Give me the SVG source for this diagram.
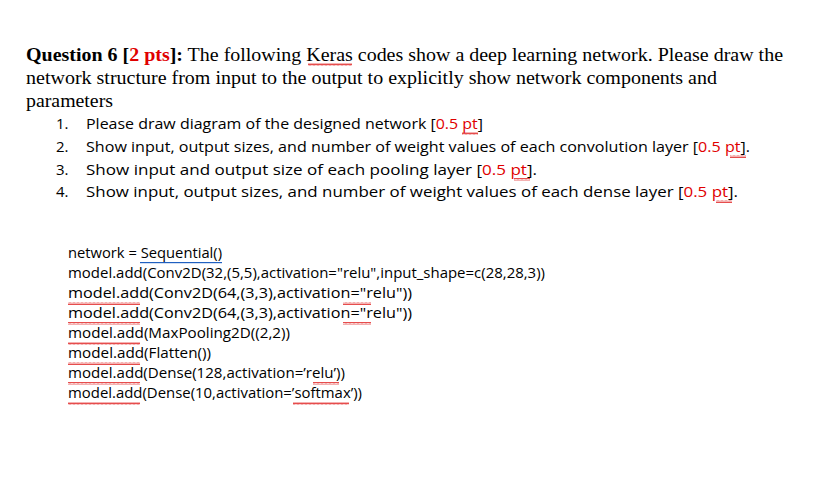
<svg xmlns="http://www.w3.org/2000/svg" width="830" height="491" viewBox="0 0 830 491">
<defs>
<pattern id="wv" width="4" height="3" patternUnits="userSpaceOnUse"><path d="M0,2.5 L1,0.5 L2,2.5 L3,0.5 L4,2.5" fill="none" stroke="#e02020" stroke-width="0.8"/></pattern>
<style>
.t{font-family:"Liberation Serif",serif;font-size:19px;fill:#000}
.b{font-weight:bold}
.r{fill:#e00000}
.c{font-family:"Open Sans","Liberation Sans",sans-serif;font-size:15px;fill:#000}
.n{font-family:"Open Sans","Liberation Sans",sans-serif;font-size:15px;fill:#000}
.red{fill:#e00000}
</style>
</defs>
<rect width="830" height="491" fill="#fff"/>
<text class="t" x="26" y="61" textLength="757" lengthAdjust="spacingAndGlyphs"><tspan class="b">Question 6 [</tspan><tspan class="b r">2 pts</tspan><tspan class="b">]:</tspan> The following Keras codes show a deep learning network. Please draw the</text>
<text class="t" x="26" y="84" textLength="691" lengthAdjust="spacingAndGlyphs">network structure from input to the output to explicitly show network components and</text>
<text class="t" x="26" y="107" textLength="87" lengthAdjust="spacingAndGlyphs">parameters</text>
<g class="n">
<text x="56" y="129">1.</text><text x="86" y="129" textLength="397" lengthAdjust="spacingAndGlyphs">Please draw diagram of the designed network [<tspan class="red">0.5 pt</tspan>]</text>
<text x="56" y="152">2.</text><text x="86" y="152" textLength="664" lengthAdjust="spacingAndGlyphs">Show input, output sizes, and number of weight values of each convolution layer [<tspan class="red">0.5 pt</tspan>].</text>
<text x="56" y="175">3.</text><text x="86" y="175" textLength="451" lengthAdjust="spacingAndGlyphs">Show input and output size of each pooling layer [<tspan class="red">0.5 pt</tspan>].</text>
<text x="56" y="197">4.</text><text x="86" y="197" textLength="652" lengthAdjust="spacingAndGlyphs">Show input, output sizes, and number of weight values of each dense layer [<tspan class="red">0.5 pt</tspan>].</text>
</g>
<g class="c">
<text x="68" y="258" textLength="154" lengthAdjust="spacingAndGlyphs">network = Sequential()</text>
<text x="68" y="278" textLength="477" lengthAdjust="spacingAndGlyphs">model.add(Conv2D(32,(5,5),activation="relu",input_shape=c(28,28,3))</text>
<text x="68" y="298" textLength="344" lengthAdjust="spacingAndGlyphs">model.add(Conv2D(64,(3,3),activation="relu"))</text>
<text x="68" y="318" textLength="344" lengthAdjust="spacingAndGlyphs">model.add(Conv2D(64,(3,3),activation="relu"))</text>
<text x="68" y="338" textLength="222" lengthAdjust="spacingAndGlyphs">model.add(MaxPooling2D((2,2))</text>
<text x="68" y="358" textLength="143" lengthAdjust="spacingAndGlyphs">model.add(Flatten())</text>
<text x="68" y="378" textLength="277" lengthAdjust="spacingAndGlyphs">model.add(Dense(128,activation=’relu’))</text>
<text x="68" y="398" textLength="294" lengthAdjust="spacingAndGlyphs">model.add(Dense(10,activation=’softmax’))</text>
</g>
<g>
<rect x="140" y="262" width="82" height="1.2" fill="#2060c0"/>
<rect x="308" y="63" width="44" height="3" fill="url(#wv)"/>
<rect x="730" y="155" width="16" height="3" fill="url(#wv)"/>
<rect x="514" y="178" width="16" height="3" fill="url(#wv)"/>
<rect x="716" y="200" width="16" height="3" fill="url(#wv)"/>
<rect x="462" y="132" width="16" height="3" fill="url(#wv)"/>
<rect x="68" y="302" width="72" height="3" fill="url(#wv)"/>
<rect x="68" y="322" width="72" height="3" fill="url(#wv)"/>
<rect x="68" y="342" width="72" height="3" fill="url(#wv)"/>
<rect x="68" y="362" width="72" height="3" fill="url(#wv)"/>
<rect x="68" y="382" width="72" height="3" fill="url(#wv)"/>
<rect x="68" y="402" width="72" height="3" fill="url(#wv)"/>
<rect x="343" y="302" width="28" height="3" fill="url(#wv)"/>
<rect x="343" y="322" width="28" height="3" fill="url(#wv)"/>
<rect x="313" y="382" width="26" height="3" fill="url(#wv)"/>
<rect x="293" y="402" width="56" height="3" fill="url(#wv)"/>
</g>
</svg>
